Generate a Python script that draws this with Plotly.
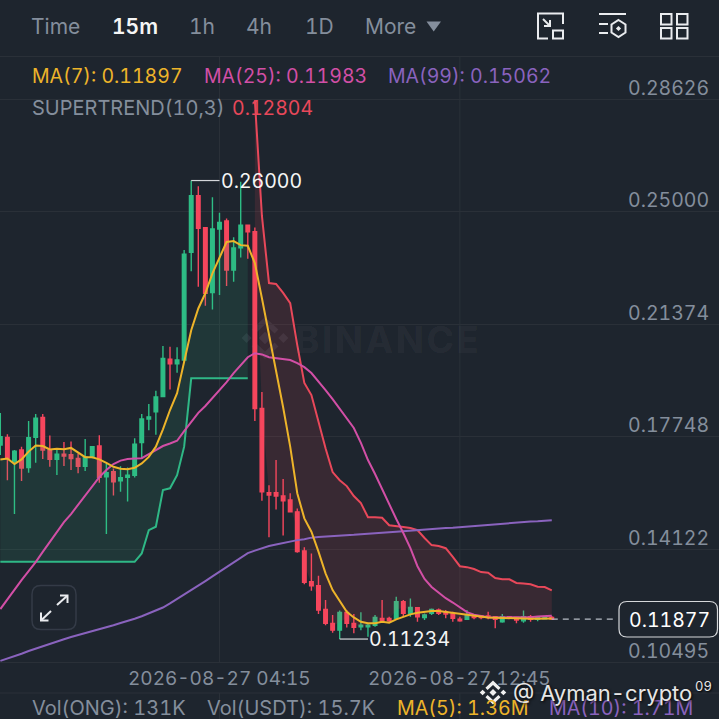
import pandas as pd
import plotly.graph_objects as go

BG = "#1E252E"
GRID = "#2A3038"
GREY = "#848E9C"
UP = "#2EBD85"
DOWN = "#F6465D"
YELLOW = "#EDB42A"
PINK = "#D24FA6"
PURPLE = "#8A63BE"
FONT = "Inter"

candle_open = [.1748,.1773,.1694,.1732,.1676,.1773,.1837,.1732,.1702,.1719,.1717,.1705,.1680,.1710,.1745,.1646,.1662,.1633,.1644,.1651,.1756,.1832,.1855,.1904,.2025,.2010,.2022,.2369,.2551,.2448,.2239,.2444,.2470,.2312,.2383,.2456,
               .2435,.1866,.1595,.1595,.1584,.1571,.1533,.1407,.1308,.1295,.1219,.1174,.1152,.1209,.1174,.1163,.1163,.1168,.1190,.1190,.1190,.1244,.1206,.1224,.1193,.1206,.1217,.1211,.1206,.1187,.1187,.1195,.1198,.1198,.1195,.1179,.1195,.1193,.1182,.1195,.1187,.1189,.1193]
candle_close = [.1775,.1705,.1728,.1674,.1772,.1835,.1732,.1702,.1719,.1713,.1705,.1680,.1710,.1743,.1644,.1659,.1630,.1643,.1651,.1751,.1832,.1839,.1903,.2027,.2010,.2022,.2363,.2551,.2446,.2237,.2444,.2465,.2312,.2383,.2456,.2435,
                .1866,.1598,.1587,.1584,.1569,.1533,.1405,.1306,.1295,.1217,.1174,.1152,.1209,.1174,.1161,.1168,.1168,.1193,.1182,.1182,.1244,.1206,.1225,.1195,.1201,.1219,.1206,.1204,.1190,.1182,.1201,.1193,.1193,.1193,.1187,.1195,.1191,.1185,.1195,.1187,.1193,.1193,.11877]
candle_high = [.1851,.1783,.1732,.1743,.1826,.1848,.1848,.1779,.1732,.1758,.1760,.1721,.1768,.1743,.1780,.1689,.1673,.1680,.1676,.1770,.1848,.1880,.1923,.2067,.2065,.2063,.2376,.26000,.2582,.2448,.2546,.2496,.2478,.2417,.2596,.2456,
               .2449,.1919,.1619,.1700,.1639,.1593,.1544,.1419,.1399,.1327,.1249,.1201,.1215,.1217,.1204,.1210,.1174,.1201,.1249,.1195,.1260,.1249,.1254,.1227,.1206,.1222,.1222,.1217,.1211,.1195,.1217,.1201,.1201,.1211,.1198,.1204,.1198,.1195,.1215,.1201,.1195,.1198,.1198]
candle_low = [.1716,.1635,.1526,.1632,.1659,.1691,.1703,.1678,.1652,.1681,.1668,.1657,.1665,.1706,.1627,.1462,.1586,.1598,.1566,.1644,.1705,.1796,.1781,.1903,.1927,.1981,.2015,.2308,.2258,.2197,.2185,.2231,.2260,.2274,.2352,.2348,
              .1826,.1569,.1451,.1541,.1457,.1533,.1401,.1300,.1279,.1204,.1168,.1144,.11234,.1161,.1142,.1152,.1131,.1163,.1175,.1175,.1188,.1195,.1195,.1179,.1185,.1201,.1201,.1190,.1179,.1179,.1185,.1187,.1187,.1187,.1158,.1176,.1187,.1174,.1176,.1179,.1181,.1187,.1185]

ma7 = [.1702,.1705,.1687,.1702,.1727,.1747,.1745,.1734,.1736,.1735,.1739,.1725,.1709,.1709,.1702,.1691,.1678,.1672,.1670,.1675,.1689,.1710,.1743,.1799,.1861,.1915,.2022,.2118,.2188,.2237,.2301,.2354,.2402,.2405,.2392,.2390,
       .2334,.2221,.2106,.1990,.1870,.1743,.1593,.1512,.1469,.1405,.1335,.1281,.1244,.1211,.1193,.1179,.1174,.1174,.1179,.1176,.1187,.1195,.1203,.1208,.1211,.1214,.1214,.1211,.1206,.1204,.1201,.1198,.1195,.1193,.1192,.1191,.1191,.1190,.1190,.1189,.1189,.1189,.11897]
ma25 = [.1220,.1252,.1281,.1313,.1342,.1371,.1404,.1436,.1468,.1500,.1526,.1555,.1584,.1613,.1645,.1668,.1687,.1698,.1703,.1705,.1706,.1719,.1733,.1745,.1753,.1762,.1793,.1822,.1852,.1874,.1899,.1925,
        .1951,.1980,.2007,.2031,.2044,.2040,.2031,.2028,.2025,.2022,.2012,.1999,.1980,.1954,.1925,.1896,.1864,.1833,.1803,.1755,.1700,.1655,.1606,.1561,.1510,.1465,.1416,.1358,.1317,.1291,.1273,.1255,.1241,.1226,.1210,.1202,.1197,.1194,.1193,.1193,.1193,.1194,.1194,.1194,.1196,.1197,.11983]
ma99 = [.1053,.1060,.1068,.1076,.1085,.1093,.1100,.1108,.1115,.1123,.1130,.1136,.1143,.1149,.1156,.1162,.1168,.1175,.1181,.1189,.1197,.1207,.1215,.1225,.1238,.1252,.1267,.1281,.1296,.1310,.1325,.1340,
        .1355,.1371,.1384,.1400,.1408,.1416,.1423,.1428,.1433,.1439,.1442,.1445,.1450,.1452,.1453,.1455,.1457,.1458,.1459,.1461,.1462,.1464,.1465,.1467,.1469,.1471,.1472,.1474,.1476,.1478,.1479,.1481,.1482,.1484,.1486,.1487,.1489,.1490,.1492,.1494,.1496,.1498,.1500,.1502,.1503,.1505,.15062]

# supertrend, long side then short side
st_green = [.1372]*20 + [.1399,.1474,.1485,.1603,.1609,.1651,.1743] + [.1963]*9
st_red = [.2859,.2486,.2270,.2267,.2238,.2205,.2070,.1948,.1909,.1819,.1738,.1661,.1635,.1616,.1584,.1561,.1516,.1516,.1514,.1490,.1486,.1484,.1481,.1474,.1449,.1426,.1423,.1416,.1388,.1358,.1355,.1349,.1339,.1337,.1320,.1316,.1316,.1304,.1302,.1300,.1292,.1291,.12804]
st_red_mid = [.2434,.1867,.1597,.1587,.1581,.1555,.1474,.1362,.1304,.1255,.1197,.1165,.1178,.1191,.1168,.1165,.1165,.1181,.1186,.1186,.1217,.1226,.1217,.1210,.1197,.1214,.1211,.1207,.1197,.1185,.1194,.1194,.1194,.1194,.1190,.1189,.1193,.1190,.1189,.1190,.1190,.1191,.1190]

price_ticks = [.28626, .25000, .21374, .17748, .14122, .10495]
price_tick_text = ["0.28626", "0.25000", "0.21374", "0.17748", "0.14122", "0.10495"]
time_ticks = ["2026-08-27 04:15", "2026-08-27 12:45"]
periods = ["Time", "15m", "1h", "4h", "1D", "More"]

times = pd.date_range("2026-08-26 20:30", periods=len(candle_open), freq="15min")
n_green = len(st_green)

# page pixels <-> axes, the plot fills the whole 719 square
W = 719
CANDLE_PX = 7.07
t_ref = pd.Timestamp(time_ticks[0])
x_left = t_ref - pd.Timedelta(minutes=15*219.5/CANDLE_PX)
x_right = t_ref + pd.Timedelta(minutes=15*(W-219.5)/CANDLE_PX)
PRICE_PX = 0.03626/112.6
y_top = .28626 + 99*PRICE_PX
y_bot = .10495 - (W-662)*PRICE_PX

def px(x):
    return x/W

def py(y):
    return 1 - y/W

def tnum(text):
    # reference digits are all the same width
    return f"<span style=\"font-feature-settings:'tnum'\">{text}</span>"

def path(points, closed=False):
    d = "M" + " L".join(f"{px(x):.5f},{py(y):.5f}" for x, y in points)
    return d + (" Z" if closed else "")

shapes = []
annotations = []

def stroke(points, color="#EAECEF", width=2, closed=False, fill=None, layer="above"):
    shapes.append(dict(type="path", xref="paper", yref="paper", path=path(points, closed),
                       line=dict(color=color, width=width), fillcolor=fill, layer=layer))

def hline(y, color=GRID):
    shapes.append(dict(type="line", xref="paper", yref="paper", x0=0, x1=1, y0=py(y), y1=py(y),
                       line=dict(color=color, width=1), layer="below"))

def label(x, y, text, color=GREY, size=20, anchor="left", **kw):
    x = x - 1.5 if anchor == "left" else x
    annotations.append(dict(xref="paper", yref="paper", x=px(x), y=py(y), text=tnum(text), showarrow=False,
                            xanchor=anchor, yanchor="middle", borderpad=0,
                            font=dict(family=FONT, color=color, size=size, **kw)))

def diamond(cx, cy, r, color, layer="above"):
    stroke([(cx, cy-r), (cx+r, cy), (cx, cy+r), (cx-r, cy)], color=color, width=0, closed=True, fill=color, layer=layer)

def logo(cx, cy, s, color, layer="above"):
    # centre, side pieces and the two chevrons
    diamond(cx, cy, s*.27, color, layer)
    diamond(cx-s*.8, cy, s*.22, color, layer)
    diamond(cx+s*.8, cy, s*.22, color, layer)
    w = s*.24
    stroke([(cx-s*.5, cy-s*.28), (cx, cy-s*.75), (cx+s*.5, cy-s*.28)], color=color, width=w, layer=layer)
    stroke([(cx-s*.5, cy+s*.28), (cx, cy+s*.75), (cx+s*.5, cy+s*.28)], color=color, width=w, layer=layer)

# frame lines
hline(56.5)
hline(693)

for t in time_ticks:
    for y0, y1 in ((56.5, 662), (693, 719)):
        shapes.append(dict(type="line", xref="x", yref="paper", x0=t, x1=t, y0=py(y0), y1=py(y1),
                           line=dict(color=GRID, width=1), layer="below"))

# watermark
logo(265, 338, 23, "#2D343E", layer="below")
annotations.append(dict(xref="paper", yref="paper", x=px(293), y=py(339),
                        text="<span style=\"letter-spacing:2.5px\">BINANCE</span>", showarrow=False,
                        xanchor="left", yanchor="middle",
                        font=dict(family=FONT, size=37, color="rgba(255,255,255,0.055)", weight=700)))

# header
label(31, 27, periods[0], size=21)
label(112, 27, periods[1], color="#F5F5F5", size=21, weight=600)
label(190, 27, periods[2], size=21)
label(246, 27, periods[3], size=21)
label(305, 27, periods[4], size=21)
label(365, 27, periods[5], size=21)
stroke([(426.5, 21.5), (441, 21.5), (433.7, 31.5)], color=GREY, width=0, closed=True, fill=GREY)

# header icons
ICON = "#EAECEF"
stroke([(548, 38.5), (538, 38.5), (538, 13.5), (563, 13.5), (563, 24)], color=ICON)
stroke([(553, 30.5), (563, 30.5), (563, 38.5), (553, 38.5)], color=ICON, closed=True)
stroke([(543, 19), (550, 26)], color=ICON)
stroke([(550, 20), (550, 26), (544, 26)], color=ICON)
stroke([(599, 14), (626, 14)], color=ICON)
stroke([(599, 24), (608, 24)], color=ICON)
stroke([(599, 33), (608, 33)], color=ICON)
stroke([(618.5, 20), (625.5, 24.5), (625.5, 32.5), (618.5, 37), (611.5, 32.5), (611.5, 24.5)], color=ICON, closed=True)
diamond(618.5, 28.5, 2.6, ICON)
for x0 in (661, 677):
    for y0 in (14, 28):
        shapes.append(dict(type="rect", xref="paper", yref="paper", x0=px(x0), x1=px(x0+10.5),
                           y0=py(y0), y1=py(y0+10.5), line=dict(color=ICON, width=2)))

# indicator legend
label(32, 76, "MA(7): 0.11897", color=YELLOW, size=19.5)
label(204, 76, "MA(25): 0.11983", color=PINK, size=19.5)
label(388, 76, "MA(99): 0.15062", color=PURPLE, size=19.5)
label(32, 108, "SUPERTREND(10,3)")
label(232, 108, "0.12804", color="#E8485A", size=19.5)

# price scale labels sit just above their grid line
for v, t in zip(price_ticks, price_tick_text):
    annotations.append(dict(xref="paper", yref="y", x=px(710), y=v, yshift=11.5, text=tnum(t), showarrow=False,
                            xanchor="right", yanchor="middle", borderpad=0,
                            font=dict(family=FONT, color=GREY, size=19.5)))

for t in time_ticks:
    annotations.append(dict(xref="x", yref="paper", x=t, y=py(678), text=tnum(t), showarrow=False,
                            xanchor="center", yanchor="middle", borderpad=0,
                            font=dict(family=FONT, color=GREY, size=19)))

# high / low markers
high_i = candle_high.index(max(candle_high))
low_i = candle_low.index(min(candle_low))
for i, v, t in ((high_i, candle_high[high_i], "0.26000"), (low_i, candle_low[low_i], "0.11234")):
    shapes.append(dict(type="line", xref="x", yref="y", x0=times[i], x1=times[i+4], y0=v, y1=v,
                       line=dict(color="#D5D7DA", width=1.2)))
    annotations.append(dict(xref="x", yref="y", x=times[i+4], y=v, text=tnum(t), showarrow=False,
                            xanchor="left", yanchor="middle", borderpad=0,
                            font=dict(family=FONT, color="#F5F5F5", size=19.5)))

# last price line and tag
last = candle_close[-1]
shapes.append(dict(type="line", xref="x", yref="y", x0=times[-1], x1=times[-1] + pd.Timedelta(minutes=15*66/CANDLE_PX),
                   y0=last, y1=last, line=dict(color="#B7BDC6", width=1.2, dash="6px,5px")))
def rounded(x0, y0, x1, y1, r):
    return (f"M{px(x0+r):.5f},{py(y0):.5f} L{px(x1-r):.5f},{py(y0):.5f} Q{px(x1):.5f},{py(y0):.5f} {px(x1):.5f},{py(y0+r):.5f} "
            f"L{px(x1):.5f},{py(y1-r):.5f} Q{px(x1):.5f},{py(y1):.5f} {px(x1-r):.5f},{py(y1):.5f} "
            f"L{px(x0+r):.5f},{py(y1):.5f} Q{px(x0):.5f},{py(y1):.5f} {px(x0):.5f},{py(y1-r):.5f} "
            f"L{px(x0):.5f},{py(y0+r):.5f} Q{px(x0):.5f},{py(y0):.5f} {px(x0+r):.5f},{py(y0):.5f} Z")
shapes.append(dict(type="path", xref="paper", yref="paper", path=rounded(619, 601.5, 717.5, 637, 8),
                   line=dict(color="#D5D7DA", width=1.2), fillcolor=BG))
label(669, 619.5, "0.11877", color="#FFFFFF", size=19.5, anchor="center")

# expand button
shapes.append(dict(type="path", xref="paper", yref="paper", path=rounded(32, 585.5, 76, 629.5, 9),
                   line=dict(color="#343B47", width=1.5), fillcolor=BG))
stroke([(57, 605), (67, 596)], color="#EAECEF", width=2)
stroke([(60, 595.5), (67.5, 595.5), (67.5, 603)], color="#EAECEF", width=2)
stroke([(41.5, 620), (51, 611)], color="#EAECEF", width=2)
stroke([(41, 612.5), (41, 620.5), (48.5, 620.5)], color="#EAECEF", width=2)

# volume row
label(32, 708, "Vol(ONG): 131K")
label(207, 708, "Vol(USDT): 15.7K")
label(397, 708, "MA(5): 1.36M", color=YELLOW, size=19.7)
label(549.5, 708, "MA(10): 1.71M", color=PURPLE, size=19.7)

# user watermark on top of everything
logo(493, 692.5, 13, "#F0F0F0")
label(513, 693, "@ Ayman-crypto", color="#E6E6E6", size=22, shadow="1px 1px 3px #000")
label(695, 686, "09", color="#E6E6E6", size=13, shadow="1px 1px 2px #000")

fig = go.Figure()

# fills between the supertrend and its midline
fig.add_trace(go.Scatter(x=times[:n_green], y=ma7[:n_green], mode="lines", line=dict(width=0), hoverinfo="skip"))
fig.add_trace(go.Scatter(x=times[:n_green], y=st_green, mode="lines", line=dict(width=0), hoverinfo="skip",
                         fill="tonexty", fillcolor="rgba(46,189,133,0.12)"))
fig.add_trace(go.Scatter(x=times[n_green:], y=st_red_mid, mode="lines", line=dict(width=0), hoverinfo="skip"))
fig.add_trace(go.Scatter(x=times[n_green:], y=st_red, mode="lines", line=dict(width=0), hoverinfo="skip",
                         fill="tonexty", fillcolor="rgba(246,70,93,0.12)"))

fig.add_trace(go.Candlestick(x=times, open=candle_open, high=candle_high, low=candle_low, close=candle_close,
                             increasing=dict(line=dict(color=UP, width=1.4), fillcolor=UP),
                             decreasing=dict(line=dict(color=DOWN, width=1.4), fillcolor=DOWN)))

fig.add_trace(go.Scatter(x=times[:n_green], y=st_green, mode="lines", line=dict(color="#2FB886", width=2)))
fig.add_trace(go.Scatter(x=times[n_green:], y=st_red, mode="lines", line=dict(color="#E8485A", width=2)))
fig.add_trace(go.Scatter(x=times, y=ma99, mode="lines", line=dict(color=PURPLE, width=2)))
fig.add_trace(go.Scatter(x=times, y=ma25, mode="lines", line=dict(color=PINK, width=2)))
fig.add_trace(go.Scatter(x=times, y=ma7, mode="lines", line=dict(color=YELLOW, width=2)))

fig.update_layout(
    width=W, height=W, autosize=False, margin=dict(l=0, r=0, t=0, b=0),
    paper_bgcolor=BG, plot_bgcolor=BG, showlegend=False, boxgap=0.28,
    shapes=shapes, annotations=annotations,
    xaxis=dict(range=[x_left, x_right], showgrid=False, zeroline=False, showticklabels=False,
               ticks="", rangeslider=dict(visible=False)),
    yaxis=dict(range=[y_bot, y_top], tickvals=price_ticks, gridcolor=GRID, gridwidth=1, zeroline=False,
               showticklabels=False, ticks=""),
)

fig.write_html("out.html", config=dict(displayModeBar=False), post_script="document.body.style.margin='0';")
